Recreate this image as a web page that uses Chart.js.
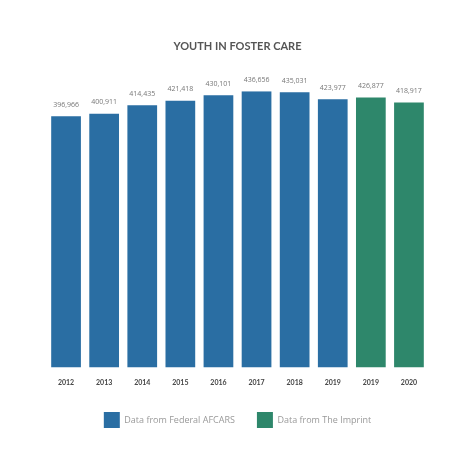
<!DOCTYPE html>
<html><head>
<script src="https://cdn.jsdelivr.net/npm/chart.js@4"></script>
<style>body{margin:0;background:#fff}#c{display:block}</style>
</head><body>
<canvas id="c" width="474" height="474"></canvas>
<script>
var years = ['2012','2013','2014','2015','2016','2017','2018','2019','2019','2020'];
var afcars = [396966,400911,414435,421418,430101,436656,435031,423977,null,null];
var imprint = [null,null,null,null,null,null,null,null,426877,418917];

// draw value labels above each bar
var valueLabels = {
    id: 'valueLabels',
    afterDatasetsDraw: function(chart) {
        var ctx = chart.ctx;
        ctx.save();
        ctx.font = '7px "Open Sans", sans-serif';
        ctx.fillStyle = '#777';
        ctx.textAlign = 'center';
        ctx.textBaseline = 'bottom';
        chart.data.datasets.forEach(function(ds, i) {
            chart.getDatasetMeta(i).data.forEach(function(bar, j) {
                if (ds.data[j] == null) return;
                ctx.fillText(ds.data[j].toLocaleString('en-US'), bar.x, bar.y - 8);
            });
        });
        ctx.restore();
    }
};

new Chart(document.getElementById('c'), {
    type: 'bar',
    data: {
        labels: years,
        datasets: [
            { label: 'Data from Federal AFCARS', data: afcars, backgroundColor: '#2a6ea3' },
            { label: 'Data from The Imprint', data: imprint, backgroundColor: '#2e876b' }
        ]
    },
    options: {
        responsive: false,
        animation: false,
        skipNull: true,
        categoryPercentage: 1,
        barPercentage: 0.78,
        layout: { padding: { left: 47, right: 46, top: 40, bottom: 36 } },
        plugins: {
            title: {
                display: true, text: 'YOUTH IN FOSTER CARE', color: '#555',
                font: { family: 'Lato', size: 11, weight: 'bold' }, padding: { bottom: 38 }
            },
            legend: {
                position: 'bottom',
                labels: { boxWidth: 16, boxHeight: 16, padding: 22, color: '#999',
                    font: { family: 'Open Sans', size: 9 } }
            },
            tooltip: { enabled: false }
        },
        scales: {
            x: { grid: { display: false }, border: { display: false },
                 ticks: { color: '#444', font: { family: 'Lato', size: 7, weight: 'bold' } } },
            y: { display: false, min: 0, max: 436656 * 1.0 }
        }
    },
    plugins: [valueLabels]
});
</script>
</body></html>
